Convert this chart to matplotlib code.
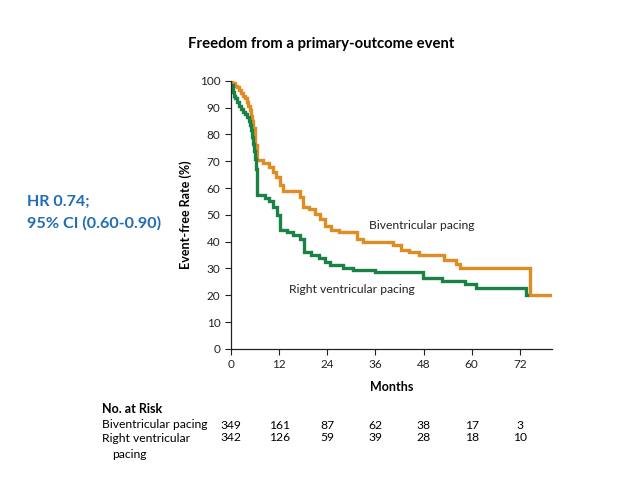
import matplotlib
matplotlib.use("Agg")
import matplotlib.pyplot as plt

plt.rcParams['font.family'] = ['Lato', 'DejaVu Sans']

# Kaplan-Meier style curves (month, event-free %)
biv_months = [0, 0.3, 0.9, 1.5, 2.0, 2.5, 3.0, 3.5, 4.0, 4.3, 4.7, 5.0, 5.3, 5.6, 5.9, 6.1, 6.4,
              6.6, 8.0, 9.5, 10.5, 11.3, 12.2, 13.0,
              17.3, 18.0, 19.5, 21.0, 22.3, 23.5, 25.0, 27.0, 31.5, 32.8, 40.4, 42.5, 44.5,
              47.0, 53.0, 56.0, 57.0, 74.5, 80.0]
biv_rate = [100, 99, 98, 97.5, 96.5, 95.5, 94.5, 93.5, 92, 90.5, 89, 87, 85, 82.5, 79, 76, 73,
            70.5, 69.5, 68, 66, 64, 61, 59,
            56.5, 53, 52, 50.5, 48.5, 46, 44.5, 43.5, 41, 40, 38.8, 37, 36,
            35, 33.2, 31.8, 30.2, 20.2, 20.2]

rv_months = [0, 0.4, 0.7, 1.0, 1.5, 2.0, 2.5, 3.0, 3.5, 4.0, 4.4, 4.7, 5.0, 5.3, 5.6, 5.8, 6.0,
             6.2, 6.4, 6.6, 8.5, 9.5, 10.5, 11.5, 12.2,
             14.0, 15.5, 17.2, 18.3, 20.0, 22.0, 23.5, 24.6, 28.0, 30.4, 36.0, 47.8, 52.5,
             58.3, 61.2, 73.6, 73.8]
rv_rate = [98.5, 96, 94.5, 93.5, 92, 90.5, 89.5, 88.5, 87.5, 86.5, 85, 83.5, 81.5, 79, 76.5, 74,
           71, 67, 62, 57.3, 56.3, 55, 53, 50, 44.4,
           43.5, 42.5, 41, 36.2, 35, 34, 32.5, 31.2, 30.2, 29.5, 28.7, 26.5, 25.4,
           24.3, 22.8, 20.3, 20.3]

x_ticks = [0, 12, 24, 36, 48, 60, 72]
biv_at_risk = [349, 161, 87, 62, 38, 17, 3]
rv_at_risk = [342, 126, 59, 39, 28, 18, 10]

orange = '#E08C22'
green = '#1B8245'

fig = plt.figure(figsize=(6.38, 4.78), dpi=100)
ax = fig.add_axes([0.362, 0.270, 0.503, 0.561])

ax.step(biv_months, biv_rate, where='post', color=orange, lw=2.4, solid_joinstyle='miter')
ax.step(rv_months, rv_rate, where='post', color=green, lw=2.4, solid_joinstyle='miter')

ax.set_xlim(0, 80)
ax.set_ylim(0, 100)
ax.set_xticks(x_ticks)
ax.set_yticks(range(0, 101, 10))
ax.tick_params(labelsize=8.5, length=4, width=0.8, colors='#222222')
for s in ['top', 'right']:
    ax.spines[s].set_visible(False)
for s in ['left', 'bottom']:
    ax.spines[s].set_linewidth(0.9)
    ax.spines[s].set_color('#222222')

ax.set_xlabel('Months', fontsize=9, fontweight='bold', labelpad=8)
ax.set_ylabel('Event-free Rate (%)', fontsize=9, fontweight='bold', labelpad=6)

ax.text(34.4, 46, 'Biventricular pacing', fontsize=8.7, color='#222222', va='center')
ax.text(14.5, 22, 'Right ventricular pacing', fontsize=8.7, color='#222222', va='center')

fig.text(0.503, 0.908, 'Freedom from a primary-outcome event', fontsize=10.7,
         fontweight='bold', ha='center', va='center')
fig.text(0.042, 0.578, 'HR 0.74;', fontsize=11.6, fontweight='bold', color='#1F6DB3', va='center')
fig.text(0.042, 0.533, '95% CI (0.60-0.90)', fontsize=11.6, fontweight='bold', color='#1F6DB3',
         va='center')

# number at risk table
tr = ax.get_xaxis_transform()
fig.text(102 / 638, 1 - 409 / 478, 'No. at Risk', fontsize=9, fontweight='bold', va='center')
fig.text(102 / 638, 1 - 425 / 478, 'Biventricular pacing', fontsize=8.7, va='center')
fig.text(102 / 638, 1 - 438 / 478, 'Right ventricular', fontsize=8.7, va='center')
fig.text(112 / 638, 1 - 454 / 478, 'pacing', fontsize=8.7, va='center')
for m, b, r in zip(x_ticks, biv_at_risk, rv_at_risk):
    ax.text(m, -0.284, str(b), transform=tr, fontsize=8.7, ha='center', va='center')
    ax.text(m, -0.332, str(r), transform=tr, fontsize=8.7, ha='center', va='center')

fig.savefig('out.png', dpi=100)
